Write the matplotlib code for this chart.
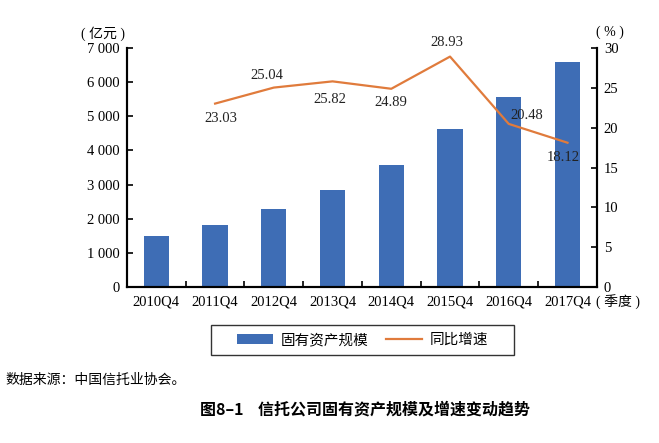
import numpy as np
import matplotlib.pyplot as plt
from matplotlib.patches import Rectangle

plt.rcParams['font.family'] = ['Liberation Serif', 'Noto Sans CJK SC']

# data
quarters = ['2010Q4', '2011Q4', '2012Q4', '2013Q4', '2014Q4', '2015Q4', '2016Q4', '2017Q4']
assets = [1500, 1810, 2290, 2840, 3570, 4620, 5570, 6580]
growth_q = ['2011Q4', '2012Q4', '2013Q4', '2014Q4', '2015Q4', '2016Q4', '2017Q4']
growth = [23.03, 25.04, 25.82, 24.89, 28.93, 20.48, 18.12]
# label offsets in points (dx, dy)
label_off = [(4, -11), (-5, 9), (-2, -13), (0, -10), (-2, 10), (13, 6), (-3, -11)]

bar_color = '#3E6DB5'
line_color = '#E07B3C'

fig = plt.figure(figsize=(6.59, 4.43), dpi=100)
ax = fig.add_axes([0.1927, 0.352, 0.713, 0.5395])
x = np.arange(len(quarters))
bars = ax.bar(x, assets, width=0.43, color=bar_color, label='固有资产规模', zorder=2)
ax.set_xlim(-0.5, len(quarters) - 0.5)
ax.set_ylim(0, 7000)
ax.set_yticks(np.arange(0, 7001, 1000))
ax.set_yticklabels([f'{v:,}'.replace(',', ' ') for v in range(0, 7001, 1000)], fontsize=10.5)
ax.set_xticks(x)
ax.set_xticklabels(quarters, fontsize=10.5)
ax.set_xticks(np.arange(-0.5, len(quarters)), minor=True)
ax.tick_params(axis='x', which='major', length=0, pad=6)
ax.tick_params(axis='x', which='minor', direction='in', length=4, width=1.2)
ax.tick_params(axis='y', direction='in', length=4, width=1.2, pad=5)
ax.spines['top'].set_visible(False)
for s in ['left', 'bottom', 'right']:
    ax.spines[s].set_linewidth(1.5)

ax2 = ax.twinx()
gx = [quarters.index(q) for q in growth_q]
line, = ax2.plot(gx, growth, color=line_color, lw=1.6, label='同比增速', zorder=3)
ax2.set_ylim(0, 30)
ax2.set_yticks(np.arange(0, 31, 5))
ax2.tick_params(axis='y', direction='in', length=4, width=1.2, labelsize=10.5, pad=5)
ax2.spines['top'].set_visible(False)
for s in ['left', 'bottom', 'right']:
    ax2.spines[s].set_linewidth(1.5)
for xi, v, (dx, dy) in zip(gx, growth, label_off):
    ax2.annotate(f'{v:.2f}', (xi, v), xytext=(dx, dy), textcoords='offset points',
                 ha='center', va='center', fontsize=10.5, color='#222222')

fig.text(0.123, 0.925, '( 亿元 )', fontsize=10, ha='left', va='center')
fig.text(0.905, 0.928, '( % )', fontsize=10, ha='left', va='center')
fig.text(0.905, 0.317, '( 季度 )', fontsize=10, ha='left', va='center')

# legend with a hand-drawn frame
leg = fig.legend([bars, line], ['固有资产规模', '同比增速'], loc='center',
                 bbox_to_anchor=(0.550, 0.2325), ncol=2, frameon=False,
                 fontsize=10.5, handlelength=2.5, handleheight=0.7,
                 handletextpad=0.5, columnspacing=1.2)
fig.patches.append(Rectangle((0.320, 0.1986), 0.460, 0.0677, transform=fig.transFigure,
                             fill=False, edgecolor='#333333', lw=1.0))

fig.text(0.008, 0.142, '数据来源：中国信托业协会。', fontsize=10, ha='left', va='center')
fig.text(0.554, 0.075, '图8–1    信托公司固有资产规模及增速变动趋势', fontsize=11.5,
         fontweight='bold', ha='center', va='center', family=['Noto Sans CJK SC'])

fig.savefig('out.png', dpi=100)
